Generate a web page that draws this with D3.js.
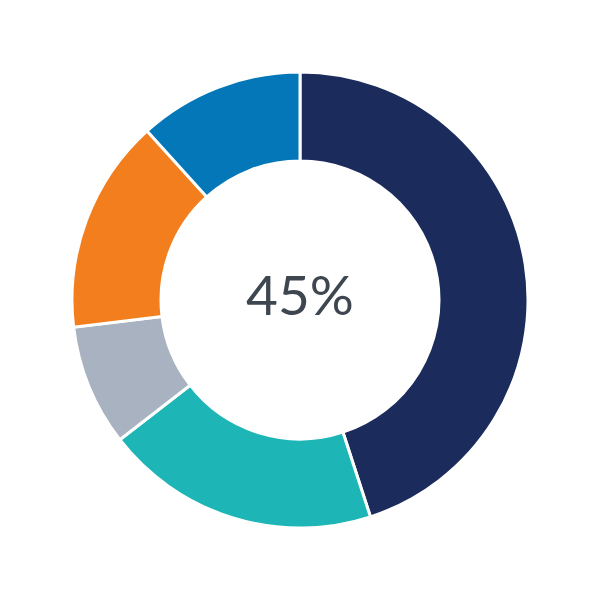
<!DOCTYPE html>
<html>
<head>
<meta charset="utf-8">
<script src="https://cdn.jsdelivr.net/npm/d3@7"></script>
<style>
  body { margin: 0; background: #fff; }
</style>
</head>
<body>
<div id="chart"></div>
<script>
// slice values, clockwise from 12 o'clock
var categories = ["A", "B", "C", "D", "E"];
var values = [45, 19.5, 8.6, 15.2, 11.7];
var colors = ["#1b2b5b", "#1db5b6", "#a8b2c0", "#f27e1e", "#0377b8"];
var centerLabel = "45%";

var width = 600, height = 600;
var outerR = 228, innerR = 139;

var svg = d3.select("#chart").append("svg")
    .attr("width", width)
    .attr("height", height)
  .append("g")
    .attr("transform", "translate(" + 300 + "," + 300 + ")");

var pie = d3.pie().sort(null).value(function(d) { return d; });
var arc = d3.arc().innerRadius(innerR).outerRadius(outerR);

svg.selectAll("path.slice")
    .data(pie(values))
    .enter().append("path")
    .attr("class", "slice")
    .attr("d", arc)
    .attr("fill", function(d, i) { return colors[i]; })
    .attr("stroke", "#fff")
    .attr("stroke-width", 3);

svg.append("text")
    .attr("text-anchor", "middle")
    .attr("dy", "0.35em")
    .attr("y", -4)
    .style("font-family", "Lato, 'Open Sans', sans-serif")
    .style("font-size", "55px")
    .style("fill", "#3e4650")
    .text(centerLabel);
</script>
</body>
</html>
